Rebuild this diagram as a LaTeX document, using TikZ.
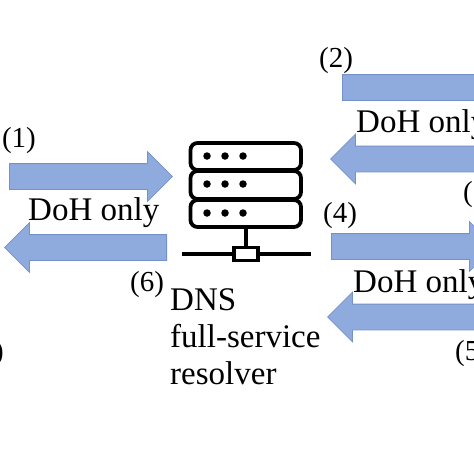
\documentclass[tikz,border=0pt]{standalone}
\usepackage{fontspec}
\setmainfont{Liberation Serif}
\usetikzlibrary{shapes.arrows}
\definecolor{arrowfill}{HTML}{8FAADC}
\definecolor{arrowline}{HTML}{7391CB}
\begin{document}
\begin{tikzpicture}[
        x=1pt,
        y=-1pt,
        blockarrow/.style={
            single arrow,
            draw=arrowline,
            fill=arrowfill,
            line width=0.8pt,
            minimum height=163pt,
            minimum width=49pt,
            single arrow head extend=12pt,
            single arrow head indent=0pt,
            inner sep=0pt,
            text height=25pt,
            text depth=0pt,
            text width=0pt,
            anchor=tail
        },
        tolabel/.style={anchor=base west, inner sep=0pt, font=\fontsize{33}{38}\selectfont},
        steplabel/.style={anchor=base, inner sep=0pt, font=\fontsize{29}{34}\selectfont},
        rack/.style={draw=black, line width=3.8pt, rounded corners=7pt, fill=white},
        led/.style={circle, fill=black, minimum size=7.5pt, inner sep=0pt}
    ]
    \clip (0,0) rectangle (474,474);

    % Arrows
    \node[blockarrow]                         (a1) at (9,176.5)   {};
    \node[blockarrow]                         (a2) at (342,87.5)  {};
    \node[blockarrow, shape border rotate=180] (a3) at (494,159)   {};
    \node[blockarrow]                         (a4) at (331,246.5) {};
    \node[blockarrow, shape border rotate=180] (a5) at (491,317)   {};
    \node[blockarrow, shape border rotate=180, minimum height=162pt] (a6) at (167,247.5) {};

    % Server
    \draw[rack] (190.5,143) rectangle (301,170);
    \draw[rack] (190.5,171) rectangle (301,199);
    \draw[rack] (190.5,200) rectangle (301,227);
    \foreach \rowy in {156,184,213}
        \foreach \ledx in {207,225,243}
            \node[led] at (\ledx,\rowy) {};

    % Network
    \coordinate (stemtop) at (246,228);
    \coordinate (netl) at (182,254);
    \coordinate (netr) at (311,254);
    \node[draw=black, line width=3.2pt, fill=white, minimum width=24pt, minimum height=13pt, inner sep=0pt] (port) at (246,254) {};
    \draw[line width=3.2pt] (stemtop) -- (port.north);
    \draw[line width=3.2pt] (netl) -- (port.west);
    \draw[line width=3.2pt] (port.east) -- (netr);

    % Labels
    \node[tolabel] (d1) at (28,220)   {DoH only};
    \node[tolabel] (d2) at (356,132)  {DoH only};
    \node[tolabel] (d3) at (353,292)  {DoH only};
    \node[tolabel] (n1) at (170,310)  {DNS};
    \node[tolabel] (n2) at (170,347)  {full-service};
    \node[tolabel] (n3) at (170,384)  {resolver};

    \node[steplabel] (s1) at (19,147)  {(1)};
    \node[steplabel] (s2) at (336,67)  {(2)};
    \node[steplabel] (s3) at (480,201) {(3)};
    \node[steplabel] (s4) at (340,222) {(4)};
    \node[steplabel] (s5) at (472,360) {(5)};
    \node[steplabel] (s6) at (147,291) {(6)};
    \node[steplabel, anchor=base east] (s7) at (4,360) {)};
\end{tikzpicture}
\end{document}
